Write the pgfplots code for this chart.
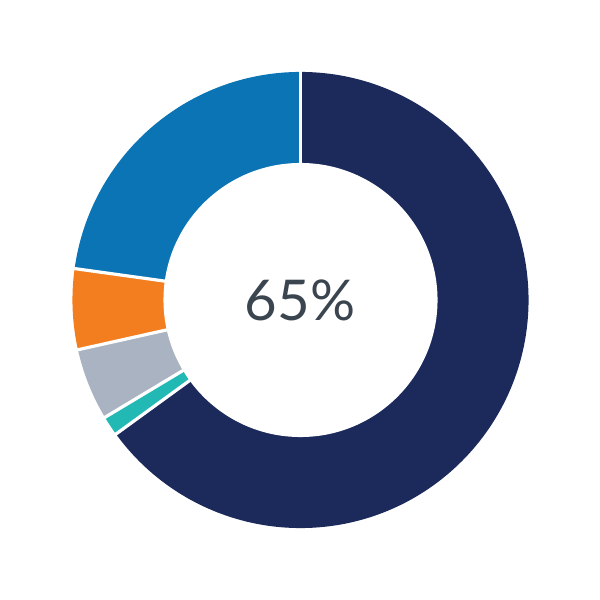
\documentclass[border=0pt]{standalone}
\usepackage{pgfplots}
\usepackage{pgfplotstable}
\pgfplotsset{compat=1.18}
\usepackage{fontspec}
\setmainfont{Lato}
\definecolor{seg0}{HTML}{1B2A5B}
\definecolor{seg1}{HTML}{22B8B4}
\definecolor{seg2}{HTML}{A9B3C1}
\definecolor{seg3}{HTML}{F37E20}
\definecolor{seg4}{HTML}{0B74B5}
\definecolor{ctext}{HTML}{3B4550}
\pgfplotstableread{
share
65
1.4
5.1
5.7
22.8
}\piedata
\begin{document}
\begin{tikzpicture}
\pgfplotstablegetrowsof{\piedata}
\pgfmathtruncatemacro{\lastrow}{\pgfplotsretval-1}
\gdef\cum{0}
\foreach \i in {0,...,\lastrow}{
  \pgfplotstablegetelem{\i}{share}\of{\piedata}
  \pgfmathsetmacro{\s}{\pgfplotsretval}
  \pgfmathsetmacro{\a}{90-3.6*\cum}
  \pgfmathsetmacro{\b}{90-3.6*(\cum+\s)}
  \expandafter\xdef\csname segA\i\endcsname{\a}
  \expandafter\xdef\csname segB\i\endcsname{\b}
  \pgfmathsetmacro{\c}{\cum+\s}
  \xdef\cum{\c}
}
\begin{axis}[hide axis, x=0.025cm, y=0.025cm, xmin=0, xmax=600, ymin=0, ymax=600,
  scale only axis, clip=false]
\addplot[draw=none] coordinates {(0,0) (600,600)};
\pgfplotsinvokeforeach{0,1,2,3,4}{
  \fill[fill=seg#1] (axis cs:300.5,300) -- ++(\csname segA#1\endcsname:5.7cm)
    arc[start angle=\csname segA#1\endcsname, end angle=\csname segB#1\endcsname, radius=5.7cm] -- cycle;
}
\pgfplotsinvokeforeach{0,1,2,3,4}{
  \draw[white, line width=0.08cm] (axis cs:300.5,300) -- ++(\csname segA#1\endcsname:5.8cm);
}
\fill[white] (axis cs:300.5,300) circle[radius=3.425cm];
\node[text=ctext, font=\fontsize{40}{48}\selectfont, inner sep=0pt] at (axis cs:300,300) {65\%};
\end{axis}
\end{tikzpicture}
\end{document}
